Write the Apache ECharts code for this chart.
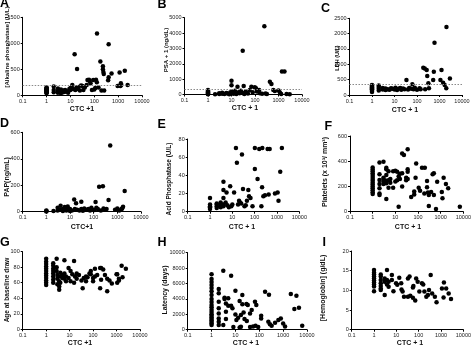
<!DOCTYPE html>
<html>
<head>
<meta charset="utf-8">
<script src="https://cdn.jsdelivr.net/npm/echarts@6/dist/echarts.min.js"></script>
<style>
  html, body { margin: 0; padding: 0; background: #fff; }
  #chart { width: 474px; height: 347px; }
</style>
</head>
<body>
<div id="chart"></div>
<script>
// Circulating tumour cells (CTC + 1) against nine clinical measures.
const ctcTicks = [0.1, 1, 10, 100, 1000, 10000];

// A: alkaline phosphatase (U/L)
const alkPhos = [[1,40],[1,55],[1,65],[1,75],[1,85],[1,95],[1,105],[1,115],[1,125],[1,140],[1,150],
  [2,60],[2,170],[2,100],[3,80],[3,130],[3,50],[4,110],[4,70],[4,40],[5,90],[5,60],[6,100],[6,70],[7,80],
  [8,50],[9,120],[10,140],[10,100],[12,200],[13,120],[15,790],[16,100],[19,505],[18,150],[20,120],[22,160],
  [25,90],[28,190],[32,180],[35,100],[40,150],[48,200],[52,295],[60,300],[63,275],[70,230],[80,100],[90,295],
  [100,110],[110,140],[118,300],[128,250],[130,1190],[150,150],[180,650],[200,90],[230,500],[240,450],
  [250,410],[230,560],[260,90],[400,980],[400,345],[380,290],[530,420],[950,180],[1150,440],[1300,230],
  [1350,200],[1250,180],[1900,470],[2500,200]];
const alkPhosUln = 200;

// B: PSA + 1 (ng/dL)
const psa = [[1,10],[1,30],[1,60],[1,100],[1,150],[1,200],[1,250],[1,300],
  [2,20],[3,30],[3,80],[4,50],[4,120],[5,40],[6,100],[7,60],[8,20],[9,150],[10,900],[10,600],[11,200],
  [12,50],[14,250],[16,30],[18,510],[20,150],[22,80],[25,250],[30,2850],[33,560],[30,100],[35,40],[40,200],
  [45,120],[50,60],[60,300],[70,500],[80,150],[98,470],[110,400],[120,200],[130,300],[150,300],[160,80],
  [200,50],[250,4450],[280,60],[320,30],[430,830],[500,680],[600,300],[700,230],[1000,260],[1150,130],
  [1400,1500],[1800,1500],[2200,30],[3000,20],[1300,40]];
const psaUln = 350;

// C: LDH (U/L)
const ldh = [[1,100],[1,130],[1,160],[1,190],[1,220],[1,250],[1,280],[1,310],[1,330],
  [2,150],[2,200],[2,260],[2,310],[3,180],[3,230],[4,160],[4,210],[5,190],[6,170],[7,220],[8,200],[10,180],
  [11,240],[13,160],[15,200],[18,230],[20,170],[24,210],[28,190],[34,490],[40,180],[45,230],[55,200],
  [62,350],[70,190],[80,240],[100,170],[130,220],[145,185],[190,890],[220,860],[270,815],[285,620],
  [320,380],[340,220],[230,190],[525,490],[560,760],[600,1700],[1100,490],[1230,815],[1450,400],
  [1700,330],[2000,220],[2040,2220],[2900,540]];
const ldhUln = 340;

// D: PAP (ng/mL)
const pap = [[1,2],[1,6],[1,10],[2,5],[3,10],[3,30],[4,15],[4,45],[5,20],[5,5],[6,35],[7,25],[7,10],[8,40],
  [9,15],[10,20],[10,5],[12,10],[15,93],[18,63],[16,20],[20,15],[25,10],[30,76],[30,20],[35,8],[40,25],
  [50,15],[60,20],[70,10],[80,30],[90,15],[110,12],[120,73],[130,30],[150,20],[170,189],[200,10],[245,192],
  [260,25],[300,15],[350,20],[425,88],[500,501],[800,15],[1000,25],[1200,10],[1500,20],[1740,38],[1600,25],
  [2040,156]];

// E: acid phosphatase (U/L)
const acidPhos = [[1,3],[1,5],[1,6],[1,8],[1,15],[2,9],[2,6],[2,4],[2,8],[3,7],[3,5],[3,10],[4,33],[4,24],
  [4,15],[4,8],[4,6],[5,10],[5.5,21],[6,7],[7,5],[8,28],[9,6],[10,8],[12,21],[14.5,70],[16,54],[18,8],
  [20,12],[22,10],[25,9],[27,63],[30,25],[35,6],[40,7],[45,12],[52,24],[56,17],[65,15],[80,6],[102,70],
  [102,47],[135,36],[160,69],[200,6],[215,27],[220,70],[245,17],[290,18],[380,69],[425,19],[470,69],
  [810,20],[1070,21],[1170,12],[1400,44],[1660,70]];

// F: platelets (x 10^3 / mm^3)
const platelets = [[1,140],[1,155],[1,170],[1,185],[1,200],[1,215],[1,230],[1,245],[1,260],[1,275],[1,290],
  [1,305],[1,320],[1,335],[1,350],
  [2,390],[2,296],[2,251],[2,219],[2,185],[2,145],[2,132],[3,396],[3,260],[3,240],[3,220],[3,270],
  [4,349],[4,336],[4,245],[4,225],[4,100],[4,290],[5,320],[5,250],[5,190],[6,260],[6,230],[8,320],[8,190],
  [10,325],[10,240],[12,317],[12,250],[14,40],[14,280],[16,260],[16,300],[20,462],[20,304],[20,200],
  [24,449],[30,250],[30,270],[35,494],[35,336],[35,317],[35,260],[50,116],[68,161],[68,137],[78,270],
  [83,383],[107,190],[123,167],[150,349],[190,145],[200,349],[250,193],[250,243],[275,153],[300,132],
  [300,45],[380,156],[440,296],[500,132],[500,304],[620,21],[700,238],[1120,156],[1200,106],[1350,270],
  [1700,219],[2140,185],[7000,40]];

// G: age at baseline draw (years)
const age = [[1,57],[1,60],[1,63],[1,66],[1,69],[1,72],[1,75],[1,78],[1,81],[1,84],[1,87],[1,91],
  [2,85],[2,82],[2,78],[2,75],[2,72],[2,68],[2,64],[2,60],[2.8,91],[2.8,80],[2.8,75],[3,70],[3,65],[3,58],
  [3.6,55],[3.6,51],[3.6,62],[4,73],[4,68],[4,60],[5,70],[5,66],[6,89],[6,65],[6,72],[7,62],[7,68],
  [9,79],[9,66],[11,75],[11,62],[13,71],[15.5,88],[15.5,60],[17,68],[20,65],[20,72],[25,70],[32,63],
  [36,53],[40,66],[50,62],[50,68],[58,67],[70,72],[80,71],[80,75],[100,66],[100,62],[120,78],[120,68],
  [150,70],[200,53],[200,79],[220,79],[220,64],[270,77],[320,70],[400,65],[400,49],[500,63],[630,59],
  [1000,71],[1070,71],[1070,60],[1260,63],[1260,65],[1650,82],[1800,67],[2500,78]];

// H: latency (days)
const latency = [[1,600],[1,800],[1,1000],[1,1200],[1,1400],[1,1600],[1,1800],[1,2000],[1,2300],[1,2600],
  [1,2900],[1,3200],[1,3600],[1,4000],[1,4500],[1,5000],[1,5400],[1,5800],[1,6200],[1,6600],[1,7200],
  [2,5280],[2,4720],[2,3640],[2,2770],[2,2120],[2,1470],[2,1040],[2,600],[3.1,7660],[3.1,600],[3.5,4160],
  [3.5,4000],[4,3400],[4,2340],[4,1390],[5,4070],[5,3100],[6.6,7010],[6.6,3100],[7.5,2770],[8.2,350],
  [10,5070],[10,1990],[11,1260],[13,1560],[15,3720],[15,300],[17,1900],[17,390],[19.5,4500],[19.5,3290],
  [22,2250],[24,1390],[29,3330],[30,1130],[33,3200],[41,2120],[41,350],[48,2550],[55,400],[66,3640],
  [70,520],[75,3200],[90,350],[120,1820],[120,1470],[175,4940],[240,1040],[255,4550],[280,700],[330,520],
  [460,900],[630,1260],[800,1470],[1000,800],[1200,400],[2100,4630],[2950,2680],[3600,4400],[4600,2860],
  [6300,520]];

// I: hemoglobin (g/dL)
const hemoglobin = [[1,9.8],[1,11],[1,11.5],[1,12],[1,12.5],[1,13],[1,13.5],[1,14],[1,14.5],[1,15.2],
  [2,14],[2,13.5],[2,12.6],[2,11.8],[2,11.1],[2,10.5],[2,10.1],[3,8.8],[3,13],[3,12.2],[3.8,15.2],
  [3.8,12.6],[3.8,11.5],[4.5,12.2],[4.5,10.9],[6.3,13.9],[6.3,12.6],[7.4,9.8],[9.7,11.8],[11,11.4],
  [13.5,13.2],[16.5,11.8],[17,10.2],[19,9.7],[22,8.4],[33,8.4],[33,13],[39,13.5],[42,8.6],[55,10.7],
  [55,8.1],[58,11.1],[70,7.4],[77,13.0],[90,12.2],[107,9.7],[140,11.8],[160,11.5],[180,9.7],[220,8.4],
  [260,8.8],[290,10.1],[345,13.9],[400,9.2],[530,8.4],[630,7.0],[1100,10.5],[1300,8.2],[1350,12.0],
  [1700,10.5],[2200,9.2],[2800,7.8]];

// Panel layout: plot rectangle, y range, letter and axis titles.
const panels = [
  { letter: 'A', data: alkPhos, uln: alkPhosUln, yMax: 1500, yStep: 500,
    rect: [22.7, 17.3, 119.3, 78], letterAt: [0, -2.5],
    xTitle: ['CTC +1', 82, 109], yTitle: ['[Alkaline phosphatase] (U/L)', 7, 47, 6] },
  { letter: 'B', data: psa, uln: psaUln, yMax: 5000, yStep: 1000,
    rect: [184.5, 17.7, 117.5, 76.8], letterAt: [157.5, -1.5],
    xTitle: ['CTC + 1', 245, 108], yTitle: ['PSA + 1 (ng/dL)', 166.5, 50, 6] },
  { letter: 'C', data: ldh, uln: ldhUln, yMax: 2500, yStep: 500,
    rect: [349.5, 18.3, 112.5, 76.7], letterAt: [321, 2.5],
    xTitle: ['CTC + 1', 405, 110], yTitle: ['LDH (U/L)', 337, 58, 5.5] },
  { letter: 'D', data: pap, yMax: 600, yStep: 200,
    rect: [22.7, 132.3, 118.3, 79.4], letterAt: [0, 117],
    xTitle: ['CTC+1', 82, 226.7], yTitle: ['PAP(ng/mL)', 7, 177, 7] },
  { letter: 'E', data: acidPhos, yMax: 80, yStep: 20,
    rect: [187.7, 139, 111.6, 72.7], letterAt: [157.5, 118],
    xTitle: ['CTC + 1', 242, 227.3], yTitle: ['Acid Phosphatase (U/L)', 169, 179, 6.5] },
  { letter: 'F', data: platelets, yMax: 600, yStep: 200,
    rect: [350, 136, 115.3, 75.7], letterAt: [324.5, 120],
    xTitle: ['CTC + 1', 408, 226.7], yTitle: ['Platelets (x 10\u00b3/ mm\u00b3)', 325, 172, 7] },
  { letter: 'G', data: age, yMax: 100, yStep: 20,
    rect: [22.7, 251.7, 117.3, 77.6], letterAt: [0, 236],
    xTitle: ['CTC +1', 80, 343], yTitle: ['Age at baseline draw', 7, 290, 6.5] },
  { letter: 'H', data: latency, yMax: 10000, yStep: 2000,
    rect: [187.7, 252.7, 119.3, 77], letterAt: [157.5, 236],
    xTitle: ['CTC + 1', 246, 343], yTitle: ['Latency (days)', 165, 290, 7] },
  { letter: 'I', data: hemoglobin, yMax: 20, yStep: 5,
    rect: [351.7, 251, 113.3, 78.7], letterAt: [322.5, 236],
    xTitle: ['CTC + 1', 410, 343], yTitle: ['[Hemoglobin] (g/dL)', 323, 288, 7] }
];

const FONT = '"Liberation Sans", Arial, sans-serif';
const axisLineStyle = { color: '#000', width: 1 };
const tickText = { fontSize: 5.5, color: '#1a1a1a', fontFamily: FONT };
const plainNumber = v => (v < 1 && v > 0 ? String(+v.toFixed(1)) : String(Math.round(v)));

const grids = [], xAxes = [], yAxes = [], series = [], texts = [];

panels.forEach((p, i) => {
  const [left, top, width, height] = p.rect;
  grids.push({ left, top, width, height, containLabel: false });

  xAxes.push({
    type: 'log', logBase: 10, min: ctcTicks[0], max: ctcTicks[ctcTicks.length - 1],
    gridIndex: i,
    axisLine: { show: true, lineStyle: axisLineStyle },
    axisTick: { show: true, length: 2, lineStyle: axisLineStyle },
    minorTick: { show: false },
    splitLine: { show: false },
    axisLabel: Object.assign({ margin: 3, formatter: plainNumber }, tickText)
  });

  yAxes.push({
    type: 'value', min: 0, max: p.yMax, interval: p.yStep,
    gridIndex: i,
    axisLine: { show: true, lineStyle: axisLineStyle },
    axisTick: { show: true, length: 2, lineStyle: axisLineStyle },
    splitLine: { show: false },
    axisLabel: Object.assign({ margin: 3, formatter: plainNumber }, tickText)
  });

  const s = {
    type: 'scatter', xAxisIndex: i, yAxisIndex: i,
    data: p.data, symbol: 'circle', symbolSize: 4.5,
    itemStyle: { color: '#000', opacity: 1 }, silent: true
  };
  if (p.uln !== undefined) {
    s.markLine = {
      silent: true, symbol: ['none', 'none'], label: { show: false },
      lineStyle: { type: [1.5, 1.5], color: '#8a8a8a', width: 1 },
      data: [{ yAxis: p.uln }]
    };
  }
  series.push(s);

  texts.push({
    type: 'text', x: p.letterAt[0], y: p.letterAt[1],
    style: { text: p.letter, fontSize: 12.5, fontWeight: 'bold', fontFamily: FONT, fill: '#000',
             textAlign: 'left', textVerticalAlign: 'top' }
  });
  texts.push({
    type: 'text', x: p.xTitle[1], y: p.xTitle[2],
    style: { text: p.xTitle[0], fontSize: 7, fontWeight: 'bold', fontFamily: FONT, fill: '#111',
             textAlign: 'center', textVerticalAlign: 'middle' }
  });
  texts.push({
    type: 'text', x: p.yTitle[1], y: p.yTitle[2], rotation: Math.PI / 2,
    style: { text: p.yTitle[0], fontSize: p.yTitle[3], fontWeight: 'bold', fontFamily: FONT, fill: '#111',
             textAlign: 'center', textVerticalAlign: 'middle' }
  });
});

const chart = echarts.init(document.getElementById('chart'), null, { renderer: 'canvas' });
chart.setOption({
  animation: false,
  backgroundColor: '#fff',
  grid: grids,
  xAxis: xAxes,
  yAxis: yAxes,
  series: series,
  graphic: texts
});
</script>
</body>
</html>
